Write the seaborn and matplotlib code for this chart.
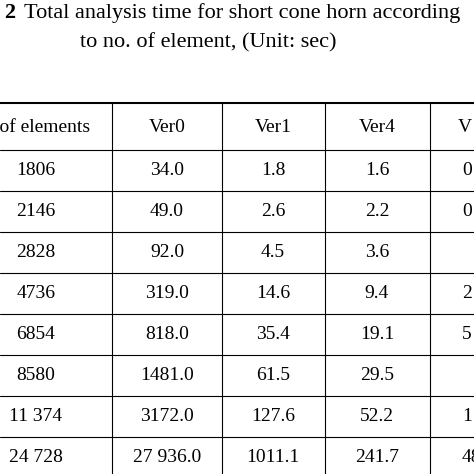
import matplotlib
matplotlib.use("Agg")
import matplotlib.pyplot as plt
import seaborn as sns

sns.set_theme(style="white")
plt.rcParams['font.family'] = ['Liberation Serif', 'DejaVu Serif']
plt.rcParams['text.color'] = 'black'

headers = ["No. of elements", "Ver0", "Ver1", "Ver4", "Ver5"]
elements = ["1806", "2146", "2828", "4736", "6854", "8580", "11 374", "24 728"]
ver0 = ["34.0", "49.0", "92.0", "319.0", "818.0", "1481.0", "3172.0", "27 936.0"]
ver1 = ["1.8", "2.6", "4.5", "14.6", "35.4", "61.5", "127.6", "1011.1"]
ver4 = ["1.6", "2.2", "3.6", "9.4", "19.1", "29.5", "52.2", "241.7"]
ver5 = ["0", "0", "", "2", "5", "", "1", "48"]

fig = plt.figure(figsize=(4.74, 4.74), dpi=100)
ax = fig.add_axes([0, 0, 1, 1])
ax.set_xlim(0, 474)
ax.set_ylim(474, 0)
ax.axis("off")

ax.text(4, 13, "2", fontsize=16, fontweight="bold", va="center", ha="left")
ax.text(24, 13, "Total analysis time for short cone horn according", fontsize=16,
        va="center", ha="left", clip_on=True)
ax.text(80, 43, "to no. of element, (Unit: sec)", fontsize=16, va="center", ha="left")

top, hdr_bot, step = 103, 150, 41
ax.plot([0, 474], [top, top], color="black", lw=1.5)
for k in range(9):
    y = hdr_bot + k * step
    ax.plot([0, 474], [y, y], color="black", lw=0.8)
for x in [112, 222, 325, 430]:
    ax.plot([x, x], [top, 474], color="black", lw=0.8)

centers = [32, 167, 273, 377, 490]
row_y = [hdr_bot + step / 2 + k * step for k in range(8)]
fs = 14
ax.text(28, 127, headers[0], fontsize=fs, ha="center", va="center", clip_on=True)
for cx, h in zip(centers[1:4], headers[1:4]):
    ax.text(cx, 127, h, fontsize=fs, ha="center", va="center")
ax.text(458, 127, "V", fontsize=fs, ha="left", va="center", clip_on=True)

for i, y in enumerate(row_y):
    ax.text(36, y, elements[i], fontsize=fs, ha="center", va="center", clip_on=True)
    ax.text(centers[1], y, ver0[i], fontsize=fs, ha="center", va="center")
    ax.text(centers[2], y, ver1[i], fontsize=fs, ha="center", va="center")
    ax.text(centers[3], y, ver4[i], fontsize=fs, ha="center", va="center")
    ax.text(462, y, ver5[i], fontsize=fs, ha="left", va="center", clip_on=True)

fig.savefig("out.png", dpi=100)
